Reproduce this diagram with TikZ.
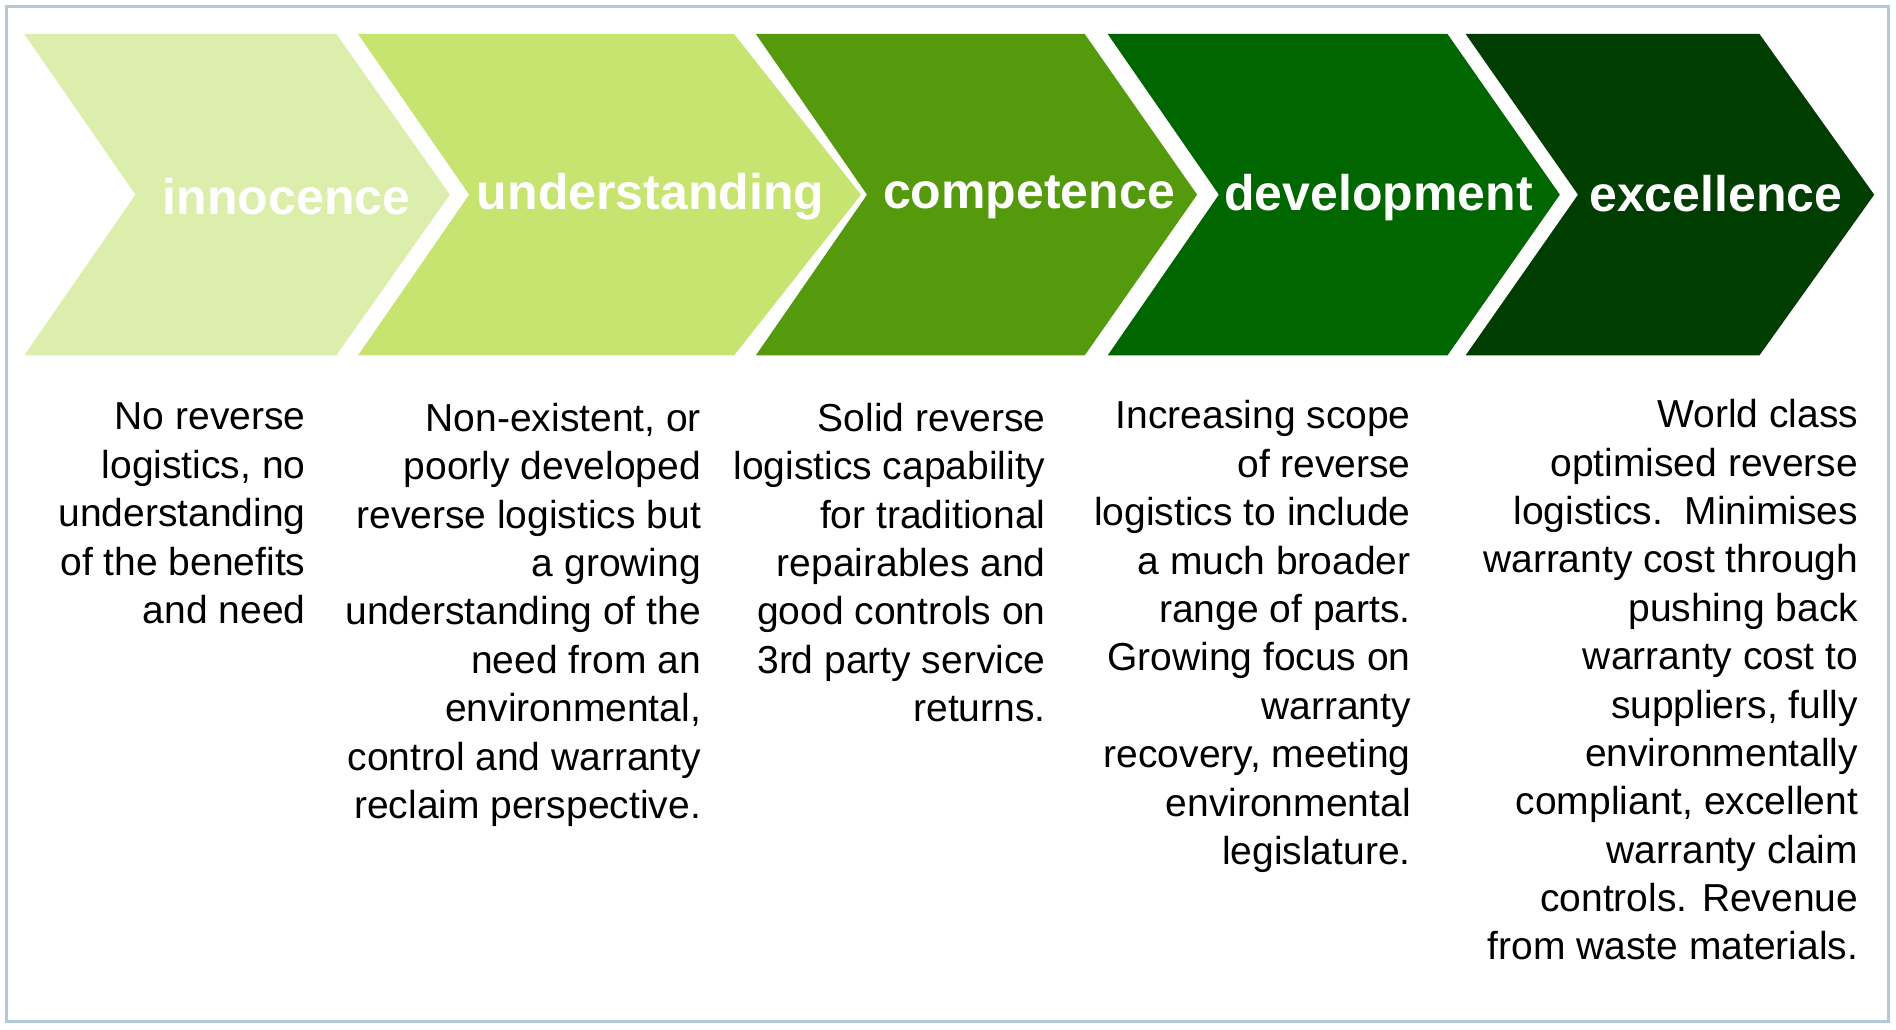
\documentclass[tikz,border=0pt]{standalone}
\usepackage{fontspec}
\setmainfont{Liberation Sans}
\begin{document}
\begin{tikzpicture}[x=0.6047pt,y=-0.6047pt,
  chev/.style={draw=none},
  ttl/.style={text=white,font=\fontsize{25}{30}\selectfont\bfseries},
  body/.style={anchor=north east,align=right,inner sep=0pt,font=\fontsize{19.5}{24.2}\selectfont}]
\useasboundingbox (0,0) rectangle (1568,851);
\draw[draw={rgb,255:red,180;green,200;blue,215},line width=1.5pt] (5,5) rectangle (1562,845);
\definecolor{c1}{HTML}{DBEEAB}\definecolor{c2}{HTML}{C7E470}\definecolor{c3}{HTML}{559A0D}
\definecolor{c4}{HTML}{006600}\definecolor{c5}{HTML}{003D00}
\fill[c1] (20,28) -- (278,28) -- (372,161) -- (278,294) -- (20,294) -- (112,161) -- cycle;
\fill[c2] (296,28) -- (607,28) -- (712,161) -- (607,294) -- (296,294) -- (388,161) -- cycle;
\fill[c3] (625,28) -- (897,28) -- (990,161) -- (897,294) -- (625,294) -- (717,161) -- cycle;
\fill[c4] (916,28) -- (1197,28) -- (1290,161) -- (1197,294) -- (916,294) -- (1008,161) -- cycle;
\fill[c5] (1212,28) -- (1455,28) -- (1550,161) -- (1455,294) -- (1212,294) -- (1305,161) -- cycle;
\node[ttl] (t1) at (237,163) {innocence};
\node[ttl] (t2) at (538,163) {understanding};
\node[ttl] (t3) at (851,163) {competence};
\node[ttl] (t4) at (1140,163) {development};
\node[ttl] (t5) at (1419,160) {excellence};
\node[body] (b1) at (253,333) {No reverse\\logistics, no\\understanding\\of the benefits\\and need};
\node[body] (b2) at (580,333) {Non-existent, or\\poorly developed\\reverse logistics but\\a growing\\understanding of the\\need from an\\environmental,\\control and warranty\\reclaim perspective.};
\node[body] (b3) at (865,333) {Solid reverse\\logistics capability\\for traditional\\repairables and\\good controls on\\3rd party service\\returns.};
\node[body] (b4) at (1167,331) {Increasing scope\\of reverse\\logistics to include\\a much broader\\range of parts.\\Growing focus on\\warranty\\recovery, meeting\\environmental\\legislature.};
\node[body] (b5) at (1537,330) {World class\\optimised reverse\\logistics.\ \ Minimises\\warranty cost through\\pushing back\\warranty cost to\\suppliers, fully\\environmentally\\compliant, excellent\\warranty claim\\controls. Revenue\\from waste materials.};
\end{tikzpicture}
\end{document}
